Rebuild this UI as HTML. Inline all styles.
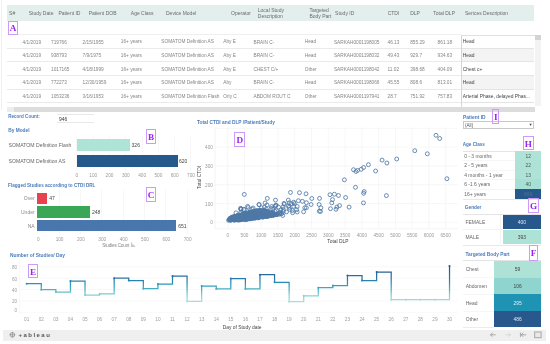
<!DOCTYPE html>
<html><head><meta charset="utf-8"><style>
html,body{margin:0;padding:0;background:#fff;}
body{width:550px;height:344px;position:relative;overflow:hidden;font-family:"Liberation Sans", "DejaVu Sans", sans-serif;}
.t{position:absolute;white-space:nowrap;line-height:1;}
.r{position:absolute;}
.lb{position:absolute;z-index:5;border:0.8px solid #cd9af7;color:#9a22f0;font-family:"Liberation Serif","DejaVu Serif",serif;font-weight:700;font-size:9.2px;text-align:center;background:transparent;}
svg{position:absolute;left:0;top:0;}
</style></head><body>
<div class="r" style="left:1.00px;top:0.00px;width:0.70px;height:110.00px;background:#f0f0f0;"></div>
<div class="r" style="left:7.00px;top:5.40px;width:527.30px;height:15.50px;background:#e3efed;"></div>
<div class="t" style="left:9.10px;top:11.00px;font-size:5.0px;color:#6a6a6a;font-weight:400;">S#</div>
<div class="t" style="left:28.70px;top:11.00px;font-size:5.0px;color:#6a6a6a;font-weight:400;">Study Date</div>
<div class="t" style="left:58.50px;top:11.00px;font-size:5.0px;color:#6a6a6a;font-weight:400;">Patient ID</div>
<div class="t" style="left:88.70px;top:11.00px;font-size:5.0px;color:#6a6a6a;font-weight:400;">Patient DOB</div>
<div class="t" style="left:130.80px;top:11.00px;font-size:5.0px;color:#6a6a6a;font-weight:400;">Age Class</div>
<div class="t" style="left:166.00px;top:11.00px;font-size:5.0px;color:#6a6a6a;font-weight:400;">Device Model</div>
<div class="t" style="left:231.10px;top:11.00px;font-size:5.0px;color:#6a6a6a;font-weight:400;">Operator</div>
<div class="t" style="left:335.10px;top:11.00px;font-size:5.0px;color:#6a6a6a;font-weight:400;">Study ID</div>
<div class="t" style="left:387.70px;top:11.00px;font-size:5.0px;color:#6a6a6a;font-weight:400;">CTDI</div>
<div class="t" style="left:410.20px;top:11.00px;font-size:5.0px;color:#6a6a6a;font-weight:400;">DLP</div>
<div class="t" style="left:433.30px;top:11.00px;font-size:5.0px;color:#6a6a6a;font-weight:400;">Total DLP</div>
<div class="t" style="left:465.00px;top:11.00px;font-size:5.0px;color:#6a6a6a;font-weight:400;">Serices Description</div>
<div class="t" style="left:257.80px;top:8.00px;font-size:5.0px;color:#6a6a6a;font-weight:400;">Local Study</div>
<div class="t" style="left:257.80px;top:14.00px;font-size:5.0px;color:#6a6a6a;font-weight:400;">Description</div>
<div class="t" style="left:309.40px;top:8.00px;font-size:5.0px;color:#6a6a6a;font-weight:400;">Targeted</div>
<div class="t" style="left:309.40px;top:14.00px;font-size:5.0px;color:#6a6a6a;font-weight:400;">Body Part</div>
<div class="r" style="left:461.00px;top:34.50px;width:73.50px;height:72.50px;background:#ffffff;border-left:0.7px solid #d5d5d5;border-top:0.7px solid #e0e0e0;box-sizing:border-box;"></div>
<div class="r" style="left:461.70px;top:48.50px;width:72.80px;height:13.00px;background:#f4f4f4;"></div>
<div class="r" style="left:461.70px;top:75.60px;width:72.80px;height:13.10px;background:#f4f4f4;"></div>
<div class="r" style="left:18.00px;top:34.20px;width:443.00px;height:0.60px;background:#efefef;"></div>
<div class="r" style="left:7.00px;top:47.90px;width:454.00px;height:0.60px;background:#eaeaea;"></div>
<div class="r" style="left:461.70px;top:47.90px;width:72.60px;height:0.60px;background:#e4e4e4;"></div>
<div class="r" style="left:7.00px;top:61.40px;width:454.00px;height:0.60px;background:#eaeaea;"></div>
<div class="r" style="left:461.70px;top:61.40px;width:72.60px;height:0.60px;background:#e4e4e4;"></div>
<div class="r" style="left:7.00px;top:75.00px;width:454.00px;height:0.60px;background:#eaeaea;"></div>
<div class="r" style="left:461.70px;top:75.00px;width:72.60px;height:0.60px;background:#e4e4e4;"></div>
<div class="r" style="left:7.00px;top:88.60px;width:454.00px;height:0.60px;background:#eaeaea;"></div>
<div class="r" style="left:461.70px;top:88.60px;width:72.60px;height:0.60px;background:#e4e4e4;"></div>
<div class="r" style="left:7.00px;top:102.20px;width:454.00px;height:0.60px;background:#eaeaea;"></div>
<div class="r" style="left:461.70px;top:102.20px;width:72.60px;height:0.60px;background:#e4e4e4;"></div>
<div class="t" style="left:22.60px;top:41.00px;font-size:4.75px;color:#858585;font-weight:400;">4/1/2019</div>
<div class="t" style="left:51.00px;top:41.00px;font-size:4.75px;color:#858585;font-weight:400;">719766</div>
<div class="t" style="left:82.60px;top:41.00px;font-size:4.75px;color:#858585;font-weight:400;">2/15/1955</div>
<div class="t" style="left:120.80px;top:40.00px;font-size:4.75px;color:#858585;font-weight:400;">16+ years</div>
<div class="t" style="left:161.30px;top:40.00px;font-size:4.75px;color:#858585;font-weight:400;">SOMATOM Definition AS</div>
<div class="t" style="left:223.30px;top:40.00px;font-size:4.75px;color:#858585;font-weight:400;">Aby E</div>
<div class="t" style="left:253.50px;top:41.00px;font-size:4.75px;color:#858585;font-weight:400;">BRAIN C-</div>
<div class="t" style="left:304.80px;top:40.00px;font-size:4.75px;color:#858585;font-weight:400;">Head</div>
<div class="t" style="left:333.90px;top:41.00px;font-size:4.75px;color:#858585;font-weight:400;">SARKAH0001198005</div>
<div class="t" style="left:387.50px;top:41.00px;font-size:4.75px;color:#858585;font-weight:400;">46.13</div>
<div class="t" style="left:410.20px;top:41.00px;font-size:4.75px;color:#858585;font-weight:400;">855.29</div>
<div class="t" style="left:437.60px;top:41.00px;font-size:4.75px;color:#858585;font-weight:400;">861.18</div>
<div class="t" style="left:462.80px;top:40.00px;font-size:4.9px;color:#444;font-weight:400;">Head</div>
<div class="t" style="left:22.60px;top:54.00px;font-size:4.75px;color:#858585;font-weight:400;">4/1/2019</div>
<div class="t" style="left:51.00px;top:54.00px;font-size:4.75px;color:#858585;font-weight:400;">938793</div>
<div class="t" style="left:82.60px;top:54.00px;font-size:4.75px;color:#858585;font-weight:400;">7/9/1975</div>
<div class="t" style="left:120.80px;top:54.00px;font-size:4.75px;color:#858585;font-weight:400;">16+ years</div>
<div class="t" style="left:161.30px;top:54.00px;font-size:4.75px;color:#858585;font-weight:400;">SOMATOM Definition AS</div>
<div class="t" style="left:223.30px;top:54.00px;font-size:4.75px;color:#858585;font-weight:400;">Aby E</div>
<div class="t" style="left:253.50px;top:54.00px;font-size:4.75px;color:#858585;font-weight:400;">BRAIN C-</div>
<div class="t" style="left:304.80px;top:54.00px;font-size:4.75px;color:#858585;font-weight:400;">Head</div>
<div class="t" style="left:333.90px;top:54.00px;font-size:4.75px;color:#858585;font-weight:400;">SARKAH0001198032</div>
<div class="t" style="left:387.50px;top:54.00px;font-size:4.75px;color:#858585;font-weight:400;">49.43</div>
<div class="t" style="left:410.20px;top:54.00px;font-size:4.75px;color:#858585;font-weight:400;">929.7</div>
<div class="t" style="left:437.60px;top:54.00px;font-size:4.75px;color:#858585;font-weight:400;">934.63</div>
<div class="t" style="left:462.80px;top:54.00px;font-size:4.9px;color:#444;font-weight:400;">Head</div>
<div class="t" style="left:22.60px;top:68.00px;font-size:4.75px;color:#858585;font-weight:400;">4/1/2019</div>
<div class="t" style="left:51.00px;top:68.00px;font-size:4.75px;color:#858585;font-weight:400;">1017165</div>
<div class="t" style="left:82.60px;top:68.00px;font-size:4.75px;color:#858585;font-weight:400;">4/18/1999</div>
<div class="t" style="left:120.80px;top:68.00px;font-size:4.75px;color:#858585;font-weight:400;">16+ years</div>
<div class="t" style="left:161.30px;top:68.00px;font-size:4.75px;color:#858585;font-weight:400;">SOMATOM Definition AS</div>
<div class="t" style="left:223.30px;top:68.00px;font-size:4.75px;color:#858585;font-weight:400;">Aby E</div>
<div class="t" style="left:253.50px;top:68.00px;font-size:4.75px;color:#858585;font-weight:400;">CHEST C/+</div>
<div class="t" style="left:304.80px;top:68.00px;font-size:4.75px;color:#858585;font-weight:400;">Other</div>
<div class="t" style="left:333.90px;top:68.00px;font-size:4.75px;color:#858585;font-weight:400;">SARKAH0001198042</div>
<div class="t" style="left:387.50px;top:68.00px;font-size:4.75px;color:#858585;font-weight:400;">11.02</div>
<div class="t" style="left:410.20px;top:68.00px;font-size:4.75px;color:#858585;font-weight:400;">398.68</div>
<div class="t" style="left:437.60px;top:68.00px;font-size:4.75px;color:#858585;font-weight:400;">404.09</div>
<div class="t" style="left:462.80px;top:68.00px;font-size:4.9px;color:#444;font-weight:400;">Chest c+</div>
<div class="t" style="left:22.60px;top:81.00px;font-size:4.75px;color:#858585;font-weight:400;">4/1/2019</div>
<div class="t" style="left:51.00px;top:81.00px;font-size:4.75px;color:#858585;font-weight:400;">772273</div>
<div class="t" style="left:82.60px;top:81.00px;font-size:4.75px;color:#858585;font-weight:400;">12/30/1959</div>
<div class="t" style="left:120.80px;top:81.00px;font-size:4.75px;color:#858585;font-weight:400;">16+ years</div>
<div class="t" style="left:161.30px;top:81.00px;font-size:4.75px;color:#858585;font-weight:400;">SOMATOM Definition AS</div>
<div class="t" style="left:223.30px;top:81.00px;font-size:4.75px;color:#858585;font-weight:400;">Aby</div>
<div class="t" style="left:253.50px;top:81.00px;font-size:4.75px;color:#858585;font-weight:400;">BRAIN C-</div>
<div class="t" style="left:304.80px;top:81.00px;font-size:4.75px;color:#858585;font-weight:400;">Head</div>
<div class="t" style="left:333.90px;top:81.00px;font-size:4.75px;color:#858585;font-weight:400;">SARKAH0001198066</div>
<div class="t" style="left:387.50px;top:81.00px;font-size:4.75px;color:#858585;font-weight:400;">45.55</div>
<div class="t" style="left:410.20px;top:81.00px;font-size:4.75px;color:#858585;font-weight:400;">808.6</div>
<div class="t" style="left:437.60px;top:81.00px;font-size:4.75px;color:#858585;font-weight:400;">813.01</div>
<div class="t" style="left:462.80px;top:81.00px;font-size:4.9px;color:#444;font-weight:400;">Head</div>
<div class="t" style="left:22.60px;top:95.00px;font-size:4.75px;color:#858585;font-weight:400;">4/1/2019</div>
<div class="t" style="left:51.00px;top:95.00px;font-size:4.75px;color:#858585;font-weight:400;">1053236</div>
<div class="t" style="left:82.60px;top:95.00px;font-size:4.75px;color:#858585;font-weight:400;">3/16/1953</div>
<div class="t" style="left:120.80px;top:95.00px;font-size:4.75px;color:#858585;font-weight:400;">16+ years</div>
<div class="t" style="left:161.30px;top:95.00px;font-size:4.75px;color:#858585;font-weight:400;">SOMATOM Definition Flash</div>
<div class="t" style="left:223.30px;top:95.00px;font-size:4.75px;color:#858585;font-weight:400;">Orly C</div>
<div class="t" style="left:253.50px;top:95.00px;font-size:4.75px;color:#858585;font-weight:400;">ABDOM ROUT C</div>
<div class="t" style="left:304.80px;top:95.00px;font-size:4.75px;color:#858585;font-weight:400;">Other</div>
<div class="t" style="left:333.90px;top:95.00px;font-size:4.75px;color:#858585;font-weight:400;">SARKAH0001197941</div>
<div class="t" style="left:387.50px;top:95.00px;font-size:4.75px;color:#858585;font-weight:400;">28.7</div>
<div class="t" style="left:410.20px;top:95.00px;font-size:4.75px;color:#858585;font-weight:400;">751.92</div>
<div class="t" style="left:437.60px;top:95.00px;font-size:4.75px;color:#858585;font-weight:400;">757.83</div>
<div class="t" style="left:462.80px;top:95.00px;font-size:4.9px;color:#444;font-weight:400;">Arterial Phase, delayed Phas...</div>
<div class="r" style="left:535.00px;top:34.50px;width:6.30px;height:71.80px;background:#f3f3f3;"></div>
<div class="r" style="left:535.00px;top:34.50px;width:6.30px;height:5.70px;background:#d3d3d3;"></div>
<div class="r" style="left:7.00px;top:107.00px;width:528.30px;height:5.30px;background:#dcdcdc;"></div>
<div class="r" style="left:7.00px;top:107.00px;width:6.50px;height:5.30px;background:#ededed;"></div>
<div class="lb" style="left:8.20px;top:21.30px;width:7.90px;height:11.80px;line-height:13.80px;">A</div>
<div class="t" style="left:8.20px;top:115.00px;font-size:4.55px;color:#4b7cbc;font-weight:700;">Record Count:</div>
<div class="r" style="left:57.00px;top:114.20px;width:37.00px;height:0.50px;background:#e8e8e8;"></div>
<div class="r" style="left:57.00px;top:121.80px;width:37.00px;height:0.50px;background:#e8e8e8;"></div>
<div class="t" style="left:59.00px;top:118.00px;font-size:4.9px;color:#333;font-weight:400;">946</div>
<div class="t" style="left:8.20px;top:129.00px;font-size:4.8px;color:#4b7cbc;font-weight:700;">By Model</div>
<div class="r" style="left:76.35px;top:136.00px;width:0.50px;height:34.00px;background:#f7f7f7;"></div>
<div class="r" style="left:92.65px;top:136.00px;width:0.50px;height:34.00px;background:#f7f7f7;"></div>
<div class="r" style="left:108.95px;top:136.00px;width:0.50px;height:34.00px;background:#f7f7f7;"></div>
<div class="r" style="left:125.25px;top:136.00px;width:0.50px;height:34.00px;background:#f7f7f7;"></div>
<div class="r" style="left:141.55px;top:136.00px;width:0.50px;height:34.00px;background:#f7f7f7;"></div>
<div class="r" style="left:157.85px;top:136.00px;width:0.50px;height:34.00px;background:#f7f7f7;"></div>
<div class="r" style="left:174.15px;top:136.00px;width:0.50px;height:34.00px;background:#f7f7f7;"></div>
<div class="r" style="left:190.45px;top:136.00px;width:0.50px;height:34.00px;background:#f7f7f7;"></div>
<div class="r" style="left:76.60px;top:139.00px;width:53.00px;height:11.60px;background:#ade4d5;"></div>
<div class="r" style="left:76.60px;top:154.80px;width:101.00px;height:11.80px;background:#26598b;"></div>
<div class="t" style="left:8.60px;top:143.00px;font-size:5.14px;color:#666;font-weight:400;">SOMATOM Definition Flash</div>
<div class="t" style="left:8.60px;top:159.00px;font-size:5.14px;color:#666;font-weight:400;">SOMATOM Definition AS</div>
<div class="t" style="left:131.60px;top:143.00px;font-size:5.0px;color:#444;font-weight:400;">326</div>
<div class="t" style="left:179.00px;top:159.00px;font-size:5.0px;color:#444;font-weight:400;">620</div>
<div class="t" style="left:-73.10px;width:300px;text-align:center;top:174.00px;font-size:4.7px;color:#9a9a9a;font-weight:400;">0</div>
<div class="t" style="left:-56.80px;width:300px;text-align:center;top:174.00px;font-size:4.7px;color:#9a9a9a;font-weight:400;">100</div>
<div class="t" style="left:-40.50px;width:300px;text-align:center;top:174.00px;font-size:4.7px;color:#9a9a9a;font-weight:400;">200</div>
<div class="t" style="left:-24.20px;width:300px;text-align:center;top:174.00px;font-size:4.7px;color:#9a9a9a;font-weight:400;">300</div>
<div class="t" style="left:-7.90px;width:300px;text-align:center;top:174.00px;font-size:4.7px;color:#9a9a9a;font-weight:400;">400</div>
<div class="t" style="left:8.40px;width:300px;text-align:center;top:174.00px;font-size:4.7px;color:#9a9a9a;font-weight:400;">500</div>
<div class="t" style="left:24.70px;width:300px;text-align:center;top:174.00px;font-size:4.7px;color:#9a9a9a;font-weight:400;">600</div>
<div class="t" style="left:41.00px;width:300px;text-align:center;top:174.00px;font-size:4.7px;color:#9a9a9a;font-weight:400;">700</div>
<div class="lb" style="left:146.20px;top:129.00px;width:8.00px;height:13.10px;line-height:15.10px;">B</div>
<div class="t" style="left:8.10px;top:184.00px;font-size:4.62px;color:#4b7cbc;font-weight:700;">Flagged Studies according to CTDI DRL</div>
<div class="r" style="left:37.15px;top:190.00px;width:0.50px;height:43.50px;background:#f7f7f7;"></div>
<div class="r" style="left:58.50px;top:190.00px;width:0.50px;height:43.50px;background:#f7f7f7;"></div>
<div class="r" style="left:79.85px;top:190.00px;width:0.50px;height:43.50px;background:#f7f7f7;"></div>
<div class="r" style="left:101.20px;top:190.00px;width:0.50px;height:43.50px;background:#f7f7f7;"></div>
<div class="r" style="left:122.55px;top:190.00px;width:0.50px;height:43.50px;background:#f7f7f7;"></div>
<div class="r" style="left:143.90px;top:190.00px;width:0.50px;height:43.50px;background:#f7f7f7;"></div>
<div class="r" style="left:165.25px;top:190.00px;width:0.50px;height:43.50px;background:#f7f7f7;"></div>
<div class="r" style="left:186.60px;top:190.00px;width:0.50px;height:43.50px;background:#f7f7f7;"></div>
<div class="r" style="left:37.40px;top:192.60px;width:9.90px;height:11.20px;background:#e8414f;"></div>
<div class="r" style="left:37.40px;top:206.10px;width:52.60px;height:11.50px;background:#3aa757;"></div>
<div class="r" style="left:37.40px;top:219.90px;width:139.00px;height:11.30px;background:#4976ad;"></div>
<div class="t" style="left:-265.40px;width:300px;text-align:right;top:196.00px;font-size:5.0px;color:#888;font-weight:400;">Over</div>
<div class="t" style="left:-265.40px;width:300px;text-align:right;top:210.00px;font-size:5.0px;color:#888;font-weight:400;">Under</div>
<div class="t" style="left:-265.40px;width:300px;text-align:right;top:224.00px;font-size:5.0px;color:#888;font-weight:400;">NA</div>
<div class="t" style="left:49.20px;top:196.00px;font-size:5.0px;color:#444;font-weight:400;">47</div>
<div class="t" style="left:92.00px;top:210.00px;font-size:5.0px;color:#444;font-weight:400;">248</div>
<div class="t" style="left:178.20px;top:224.00px;font-size:5.0px;color:#444;font-weight:400;">651</div>
<div class="t" style="left:-111.80px;width:300px;text-align:center;top:238.00px;font-size:4.7px;color:#9a9a9a;font-weight:400;">0</div>
<div class="t" style="left:-90.45px;width:300px;text-align:center;top:238.00px;font-size:4.7px;color:#9a9a9a;font-weight:400;">100</div>
<div class="t" style="left:-69.10px;width:300px;text-align:center;top:238.00px;font-size:4.7px;color:#9a9a9a;font-weight:400;">200</div>
<div class="t" style="left:-47.75px;width:300px;text-align:center;top:238.00px;font-size:4.7px;color:#9a9a9a;font-weight:400;">300</div>
<div class="t" style="left:-26.40px;width:300px;text-align:center;top:238.00px;font-size:4.7px;color:#9a9a9a;font-weight:400;">400</div>
<div class="t" style="left:-5.05px;width:300px;text-align:center;top:238.00px;font-size:4.7px;color:#9a9a9a;font-weight:400;">500</div>
<div class="t" style="left:16.30px;width:300px;text-align:center;top:238.00px;font-size:4.7px;color:#9a9a9a;font-weight:400;">600</div>
<div class="t" style="left:37.65px;width:300px;text-align:center;top:238.00px;font-size:4.7px;color:#9a9a9a;font-weight:400;">700</div>
<div class="t" style="left:102.30px;top:244.00px;font-size:4.7px;color:#888;font-weight:400;letter-spacing:-0.2px;">Studies Count</div>
<div class="lb" style="left:146.10px;top:187.10px;width:8.10px;height:13.00px;line-height:15.00px;">C</div>
<div class="t" style="left:197.00px;top:121.00px;font-size:4.82px;color:#4b7cbc;font-weight:700;">Total CTDI and DLP /Patient/Study</div>
<div class="lb" style="left:234.20px;top:132.20px;width:9.10px;height:13.20px;line-height:15.20px;">D</div>
<div class="t" style="left:-87.10px;width:300px;text-align:right;top:221.00px;font-size:4.7px;color:#9a9a9a;font-weight:400;">0</div>
<div class="t" style="left:-87.10px;width:300px;text-align:right;top:203.00px;font-size:4.7px;color:#9a9a9a;font-weight:400;">100</div>
<div class="t" style="left:-87.10px;width:300px;text-align:right;top:184.00px;font-size:4.7px;color:#9a9a9a;font-weight:400;">200</div>
<div class="t" style="left:-87.10px;width:300px;text-align:right;top:165.00px;font-size:4.7px;color:#9a9a9a;font-weight:400;">300</div>
<div class="t" style="left:-87.10px;width:300px;text-align:right;top:146.00px;font-size:4.7px;color:#9a9a9a;font-weight:400;">400</div>
<div class="t" style="left:77.70px;width:300px;text-align:center;top:234.00px;font-size:4.7px;color:#9a9a9a;font-weight:400;">0</div>
<div class="t" style="left:94.47px;width:300px;text-align:center;top:234.00px;font-size:4.7px;color:#9a9a9a;font-weight:400;">500</div>
<div class="t" style="left:111.24px;width:300px;text-align:center;top:234.00px;font-size:4.7px;color:#9a9a9a;font-weight:400;">1000</div>
<div class="t" style="left:128.01px;width:300px;text-align:center;top:234.00px;font-size:4.7px;color:#9a9a9a;font-weight:400;">1500</div>
<div class="t" style="left:144.78px;width:300px;text-align:center;top:234.00px;font-size:4.7px;color:#9a9a9a;font-weight:400;">2000</div>
<div class="t" style="left:161.55px;width:300px;text-align:center;top:234.00px;font-size:4.7px;color:#9a9a9a;font-weight:400;">2500</div>
<div class="t" style="left:178.32px;width:300px;text-align:center;top:234.00px;font-size:4.7px;color:#9a9a9a;font-weight:400;">3000</div>
<div class="t" style="left:195.09px;width:300px;text-align:center;top:234.00px;font-size:4.7px;color:#9a9a9a;font-weight:400;">3500</div>
<div class="t" style="left:211.86px;width:300px;text-align:center;top:234.00px;font-size:4.7px;color:#9a9a9a;font-weight:400;">4000</div>
<div class="t" style="left:228.63px;width:300px;text-align:center;top:234.00px;font-size:4.7px;color:#9a9a9a;font-weight:400;">4500</div>
<div class="t" style="left:245.40px;width:300px;text-align:center;top:234.00px;font-size:4.7px;color:#9a9a9a;font-weight:400;">5000</div>
<div class="t" style="left:262.17px;width:300px;text-align:center;top:234.00px;font-size:4.7px;color:#9a9a9a;font-weight:400;">5500</div>
<div class="t" style="left:278.94px;width:300px;text-align:center;top:234.00px;font-size:4.7px;color:#9a9a9a;font-weight:400;">6000</div>
<div class="t" style="left:295.71px;width:300px;text-align:center;top:234.00px;font-size:4.7px;color:#9a9a9a;font-weight:400;">6500</div>
<div class="t" style="left:327.30px;top:240.00px;font-size:4.9px;color:#444;font-weight:400;">Total DLP</div>
<div class="t" style="left:168.8px;top:175.0px;width:60px;height:5px;line-height:5px;text-align:center;font-size:4.9px;color:#444;font-weight:400;transform:rotate(-90deg);">Total CTDI</div>
<div class="t" style="left:10.00px;top:254.00px;font-size:4.88px;color:#4b7cbc;font-weight:700;">Number of Studies/ Day</div>
<div class="lb" style="left:28.10px;top:264.00px;width:8.10px;height:12.30px;line-height:14.30px;">E</div>
<div class="t" style="left:-282.80px;width:300px;text-align:right;top:266.00px;font-size:4.7px;color:#a0a0a0;font-weight:400;">80</div>
<div class="t" style="left:-282.80px;width:300px;text-align:right;top:278.00px;font-size:4.7px;color:#a0a0a0;font-weight:400;">60</div>
<div class="t" style="left:-282.80px;width:300px;text-align:right;top:289.00px;font-size:4.7px;color:#a0a0a0;font-weight:400;">40</div>
<div class="t" style="left:-282.80px;width:300px;text-align:right;top:300.00px;font-size:4.7px;color:#a0a0a0;font-weight:400;">20</div>
<div class="t" style="left:-282.80px;width:300px;text-align:right;top:309.00px;font-size:4.7px;color:#a0a0a0;font-weight:400;">0</div>
<div class="t" style="left:-123.30px;width:300px;text-align:center;top:318.00px;font-size:4.7px;color:#a0a0a0;font-weight:400;">01</div>
<div class="t" style="left:-108.72px;width:300px;text-align:center;top:318.00px;font-size:4.7px;color:#a0a0a0;font-weight:400;">02</div>
<div class="t" style="left:-94.14px;width:300px;text-align:center;top:318.00px;font-size:4.7px;color:#a0a0a0;font-weight:400;">03</div>
<div class="t" style="left:-79.56px;width:300px;text-align:center;top:318.00px;font-size:4.7px;color:#a0a0a0;font-weight:400;">04</div>
<div class="t" style="left:-64.98px;width:300px;text-align:center;top:318.00px;font-size:4.7px;color:#a0a0a0;font-weight:400;">05</div>
<div class="t" style="left:-50.40px;width:300px;text-align:center;top:318.00px;font-size:4.7px;color:#a0a0a0;font-weight:400;">06</div>
<div class="t" style="left:-35.82px;width:300px;text-align:center;top:318.00px;font-size:4.7px;color:#a0a0a0;font-weight:400;">07</div>
<div class="t" style="left:-21.24px;width:300px;text-align:center;top:318.00px;font-size:4.7px;color:#a0a0a0;font-weight:400;">08</div>
<div class="t" style="left:-6.66px;width:300px;text-align:center;top:318.00px;font-size:4.7px;color:#a0a0a0;font-weight:400;">09</div>
<div class="t" style="left:7.92px;width:300px;text-align:center;top:318.00px;font-size:4.7px;color:#a0a0a0;font-weight:400;">10</div>
<div class="t" style="left:22.50px;width:300px;text-align:center;top:318.00px;font-size:4.7px;color:#a0a0a0;font-weight:400;">11</div>
<div class="t" style="left:37.08px;width:300px;text-align:center;top:318.00px;font-size:4.7px;color:#a0a0a0;font-weight:400;">12</div>
<div class="t" style="left:51.66px;width:300px;text-align:center;top:318.00px;font-size:4.7px;color:#a0a0a0;font-weight:400;">13</div>
<div class="t" style="left:66.24px;width:300px;text-align:center;top:318.00px;font-size:4.7px;color:#a0a0a0;font-weight:400;">14</div>
<div class="t" style="left:80.82px;width:300px;text-align:center;top:318.00px;font-size:4.7px;color:#a0a0a0;font-weight:400;">15</div>
<div class="t" style="left:95.40px;width:300px;text-align:center;top:318.00px;font-size:4.7px;color:#a0a0a0;font-weight:400;">16</div>
<div class="t" style="left:109.98px;width:300px;text-align:center;top:318.00px;font-size:4.7px;color:#a0a0a0;font-weight:400;">17</div>
<div class="t" style="left:124.56px;width:300px;text-align:center;top:318.00px;font-size:4.7px;color:#a0a0a0;font-weight:400;">18</div>
<div class="t" style="left:139.14px;width:300px;text-align:center;top:318.00px;font-size:4.7px;color:#a0a0a0;font-weight:400;">19</div>
<div class="t" style="left:153.72px;width:300px;text-align:center;top:318.00px;font-size:4.7px;color:#a0a0a0;font-weight:400;">20</div>
<div class="t" style="left:168.30px;width:300px;text-align:center;top:318.00px;font-size:4.7px;color:#a0a0a0;font-weight:400;">21</div>
<div class="t" style="left:182.88px;width:300px;text-align:center;top:318.00px;font-size:4.7px;color:#a0a0a0;font-weight:400;">22</div>
<div class="t" style="left:197.46px;width:300px;text-align:center;top:318.00px;font-size:4.7px;color:#a0a0a0;font-weight:400;">23</div>
<div class="t" style="left:212.04px;width:300px;text-align:center;top:318.00px;font-size:4.7px;color:#a0a0a0;font-weight:400;">24</div>
<div class="t" style="left:226.62px;width:300px;text-align:center;top:318.00px;font-size:4.7px;color:#a0a0a0;font-weight:400;">25</div>
<div class="t" style="left:241.20px;width:300px;text-align:center;top:318.00px;font-size:4.7px;color:#a0a0a0;font-weight:400;">26</div>
<div class="t" style="left:255.78px;width:300px;text-align:center;top:318.00px;font-size:4.7px;color:#a0a0a0;font-weight:400;">27</div>
<div class="t" style="left:270.36px;width:300px;text-align:center;top:318.00px;font-size:4.7px;color:#a0a0a0;font-weight:400;">28</div>
<div class="t" style="left:284.94px;width:300px;text-align:center;top:318.00px;font-size:4.7px;color:#a0a0a0;font-weight:400;">29</div>
<div class="t" style="left:299.52px;width:300px;text-align:center;top:318.00px;font-size:4.7px;color:#a0a0a0;font-weight:400;">30</div>
<div class="t" style="left:222.70px;top:326.00px;font-size:4.9px;color:#444;font-weight:400;">Day of Study date</div>
<div class="t" style="left:463.00px;top:116.00px;font-size:4.9px;color:#4b7cbc;font-weight:700;">Patient ID</div>
<div class="lb" style="left:492.30px;top:109.40px;width:5.10px;height:12.80px;line-height:14.80px;">I</div>
<div class="r" style="left:463px;top:121.4px;width:70.5px;height:7.3px;border:0.6px solid #c9c9c9;box-sizing:border-box;background:#fff"></div>
<div class="t" style="left:465.00px;top:124.00px;font-size:4.6px;color:#555;font-weight:400;">(All)</div>
<div class="t" style="left:380.60px;width:300px;text-align:center;top:124.00px;font-size:3.8px;color:#444;font-weight:400;">&#9660;</div>
<div class="t" style="left:462.70px;top:143.00px;font-size:4.6px;color:#4b7cbc;font-weight:700;">Age Class</div>
<div class="lb" style="left:522.70px;top:136.10px;width:9.20px;height:12.20px;line-height:14.20px;">H</div>
<div class="r" style="left:463.00px;top:150.60px;width:78.00px;height:0.50px;background:#e4e4e4;"></div>
<div class="r" style="left:515.20px;top:150.80px;width:25.90px;height:9.55px;background:#b0e3d7;"></div>
<div class="t" style="left:464.20px;top:155.00px;font-size:4.95px;color:#666;font-weight:400;">0 - 3 months</div>
<div class="t" style="left:378.20px;width:300px;text-align:center;top:155.00px;font-size:4.95px;color:#555;font-weight:400;">12</div>
<div class="r" style="left:515.20px;top:160.35px;width:25.90px;height:9.55px;background:#aee2d6;"></div>
<div class="r" style="left:463.00px;top:160.10px;width:52.20px;height:0.50px;background:#f6f6f6;"></div>
<div class="t" style="left:464.20px;top:164.00px;font-size:4.95px;color:#666;font-weight:400;">2 - 5 years</div>
<div class="t" style="left:378.20px;width:300px;text-align:center;top:164.00px;font-size:4.95px;color:#555;font-weight:400;">22</div>
<div class="r" style="left:515.20px;top:169.90px;width:25.90px;height:9.55px;background:#b0e3d7;"></div>
<div class="r" style="left:463.00px;top:169.65px;width:52.20px;height:0.50px;background:#f6f6f6;"></div>
<div class="t" style="left:464.20px;top:174.00px;font-size:4.95px;color:#666;font-weight:400;">4 months - 1 year</div>
<div class="t" style="left:378.20px;width:300px;text-align:center;top:174.00px;font-size:4.95px;color:#555;font-weight:400;">13</div>
<div class="r" style="left:515.20px;top:179.45px;width:25.90px;height:9.55px;background:#a6dfd3;"></div>
<div class="r" style="left:463.00px;top:179.20px;width:52.20px;height:0.50px;background:#f6f6f6;"></div>
<div class="t" style="left:464.20px;top:183.00px;font-size:4.95px;color:#666;font-weight:400;">6 -1 6 years</div>
<div class="t" style="left:378.20px;width:300px;text-align:center;top:183.00px;font-size:4.95px;color:#555;font-weight:400;">40</div>
<div class="r" style="left:515.20px;top:189.00px;width:25.90px;height:9.55px;background:#27588c;"></div>
<div class="r" style="left:463.00px;top:188.75px;width:52.20px;height:0.50px;background:#f6f6f6;"></div>
<div class="t" style="left:464.20px;top:193.00px;font-size:4.95px;color:#666;font-weight:400;">16+ years</div>
<div class="t" style="left:378.20px;width:300px;text-align:center;top:193.00px;font-size:4.95px;color:#4f6f8f;font-weight:400;">869</div>
<div class="r" style="left:463.00px;top:198.60px;width:78.00px;height:0.50px;background:#e8e8e8;"></div>
<div class="t" style="left:464.80px;top:206.00px;font-size:4.75px;color:#4b7cbc;font-weight:700;">Gender</div>
<div class="lb" style="left:528.20px;top:198.20px;width:9.00px;height:13.00px;line-height:15.00px;">G</div>
<div class="r" style="left:463.00px;top:213.90px;width:78.00px;height:0.50px;background:#e4e4e4;"></div>
<div class="r" style="left:502.70px;top:214.60px;width:38.40px;height:14.80px;background:#27588c;"></div>
<div class="r" style="left:502.70px;top:229.60px;width:38.40px;height:14.80px;background:#ade2d6;"></div>
<div class="r" style="left:463.00px;top:229.30px;width:39.70px;height:0.50px;background:#f3f3f3;"></div>
<div class="r" style="left:499.80px;top:214.50px;width:0.60px;height:29.70px;background:#f3f3f3;"></div>
<div class="r" style="left:463.00px;top:244.50px;width:78.00px;height:0.50px;background:#e8e8e8;"></div>
<div class="t" style="left:465.50px;top:221.00px;font-size:4.95px;color:#666;font-weight:400;">FEMALE</div>
<div class="t" style="left:465.50px;top:236.00px;font-size:4.95px;color:#666;font-weight:400;">MALE</div>
<div class="t" style="left:371.90px;width:300px;text-align:center;top:221.00px;font-size:4.95px;color:#dfe8f0;font-weight:400;">400</div>
<div class="t" style="left:371.90px;width:300px;text-align:center;top:236.00px;font-size:4.95px;color:#444;font-weight:400;">393</div>
<div class="t" style="left:465.50px;top:253.00px;font-size:4.83px;color:#4b7cbc;font-weight:700;">Targeted Body Part</div>
<div class="lb" style="left:528.80px;top:245.20px;width:7.50px;height:13.40px;line-height:15.40px;">F</div>
<div class="r" style="left:463.00px;top:260.40px;width:78.00px;height:0.50px;background:#e4e4e4;"></div>
<div class="r" style="left:494.30px;top:260.90px;width:46.70px;height:16.65px;background:#afe2d6;"></div>
<div class="t" style="left:465.80px;top:268.00px;font-size:4.95px;color:#666;font-weight:400;">Chest</div>
<div class="t" style="left:367.60px;width:300px;text-align:center;top:268.00px;font-size:4.95px;color:#444;font-weight:400;">59</div>
<div class="r" style="left:494.30px;top:277.55px;width:46.70px;height:16.65px;background:#8fd4cf;"></div>
<div class="r" style="left:463.00px;top:277.30px;width:31.30px;height:0.50px;background:#f6f6f6;"></div>
<div class="t" style="left:465.80px;top:285.00px;font-size:4.95px;color:#666;font-weight:400;">Abdomen</div>
<div class="t" style="left:367.60px;width:300px;text-align:center;top:285.00px;font-size:4.95px;color:#444;font-weight:400;">106</div>
<div class="r" style="left:494.30px;top:294.20px;width:46.70px;height:16.65px;background:#1f93b4;"></div>
<div class="r" style="left:463.00px;top:293.95px;width:31.30px;height:0.50px;background:#f6f6f6;"></div>
<div class="t" style="left:465.80px;top:302.00px;font-size:4.95px;color:#666;font-weight:400;">Head</div>
<div class="t" style="left:367.60px;width:300px;text-align:center;top:302.00px;font-size:4.95px;color:#e0f2f6;font-weight:400;">295</div>
<div class="r" style="left:494.30px;top:310.85px;width:46.70px;height:16.65px;background:#28588c;"></div>
<div class="r" style="left:463.00px;top:310.60px;width:31.30px;height:0.50px;background:#f6f6f6;"></div>
<div class="t" style="left:465.80px;top:318.00px;font-size:4.95px;color:#666;font-weight:400;">Other</div>
<div class="t" style="left:367.60px;width:300px;text-align:center;top:318.00px;font-size:4.95px;color:#dfe8f0;font-weight:400;">486</div>
<div class="r" style="left:463.00px;top:327.30px;width:31.30px;height:0.50px;background:#ececec;"></div>
<div class="r" style="left:2.50px;top:330.40px;width:543.10px;height:10.20px;background:#efefef;"></div>
<div class="t" style="left:18.60px;top:332.00px;font-size:6.0px;color:#555;font-weight:700;letter-spacing:1.45px;">+ableau</div>
<svg width="550" height="344" viewBox="0 0 550 344"><g stroke="#999" stroke-width="0.6"><line x1="131.6" y1="242.3" x2="131.6" y2="246.6"/><line x1="131.3" y1="246.3" x2="135.2" y2="246.3"/><line x1="132.8" y1="244.2" x2="132.8" y2="246"/><line x1="134" y1="245.2" x2="134" y2="246"/></g><line x1="227.70" y1="127.5" x2="227.70" y2="228.7" stroke="#eeeeee" stroke-width="0.5"/><line x1="244.47" y1="127.5" x2="244.47" y2="228.7" stroke="#eeeeee" stroke-width="0.5"/><line x1="261.24" y1="127.5" x2="261.24" y2="228.7" stroke="#eeeeee" stroke-width="0.5"/><line x1="278.01" y1="127.5" x2="278.01" y2="228.7" stroke="#eeeeee" stroke-width="0.5"/><line x1="294.78" y1="127.5" x2="294.78" y2="228.7" stroke="#eeeeee" stroke-width="0.5"/><line x1="311.55" y1="127.5" x2="311.55" y2="228.7" stroke="#eeeeee" stroke-width="0.5"/><line x1="328.32" y1="127.5" x2="328.32" y2="228.7" stroke="#eeeeee" stroke-width="0.5"/><line x1="345.09" y1="127.5" x2="345.09" y2="228.7" stroke="#eeeeee" stroke-width="0.5"/><line x1="361.86" y1="127.5" x2="361.86" y2="228.7" stroke="#eeeeee" stroke-width="0.5"/><line x1="378.63" y1="127.5" x2="378.63" y2="228.7" stroke="#eeeeee" stroke-width="0.5"/><line x1="395.40" y1="127.5" x2="395.40" y2="228.7" stroke="#eeeeee" stroke-width="0.5"/><line x1="412.17" y1="127.5" x2="412.17" y2="228.7" stroke="#eeeeee" stroke-width="0.5"/><line x1="428.94" y1="127.5" x2="428.94" y2="228.7" stroke="#eeeeee" stroke-width="0.5"/><line x1="445.71" y1="127.5" x2="445.71" y2="228.7" stroke="#eeeeee" stroke-width="0.5"/><line x1="215.0" y1="127.5" x2="215.0" y2="228.7" stroke="#e6e6e6" stroke-width="0.5"/><line x1="215.0" y1="222.30" x2="458.0" y2="222.30" stroke="#eeeeee" stroke-width="0.5"/><line x1="215.0" y1="203.50" x2="458.0" y2="203.50" stroke="#eeeeee" stroke-width="0.5"/><line x1="215.0" y1="184.70" x2="458.0" y2="184.70" stroke="#eeeeee" stroke-width="0.5"/><line x1="215.0" y1="165.90" x2="458.0" y2="165.90" stroke="#eeeeee" stroke-width="0.5"/><line x1="215.0" y1="147.10" x2="458.0" y2="147.10" stroke="#eeeeee" stroke-width="0.5"/><line x1="215.0" y1="128.30" x2="458.0" y2="128.30" stroke="#eeeeee" stroke-width="0.5"/><line x1="215.0" y1="228.7" x2="458.0" y2="228.7" stroke="#eeeeee" stroke-width="0.5"/><g fill="none" stroke="#4e79a7" stroke-width="0.85"><circle cx="436.0" cy="135.3" r="1.95"/><circle cx="439.7" cy="138.5" r="1.95"/><circle cx="414.8" cy="150.7" r="1.95"/><circle cx="427.3" cy="153.8" r="1.95"/><circle cx="396.7" cy="159.0" r="1.95"/><circle cx="382.1" cy="160.1" r="1.95"/><circle cx="386.9" cy="163.0" r="1.95"/><circle cx="368.4" cy="164.7" r="1.95"/><circle cx="363.6" cy="167.5" r="1.95"/><circle cx="361.2" cy="169.3" r="1.95"/><circle cx="357.5" cy="170.4" r="1.95"/><circle cx="355.9" cy="171.5" r="1.95"/><circle cx="353.5" cy="169.7" r="1.95"/><circle cx="375.6" cy="171.0" r="1.95"/><circle cx="344.4" cy="179.8" r="1.95"/><circle cx="446.9" cy="178.7" r="1.95"/><circle cx="355.5" cy="187.3" r="1.95"/><circle cx="364.2" cy="191.5" r="1.95"/><circle cx="363.6" cy="193.3" r="1.95"/><circle cx="386.4" cy="195.6" r="1.95"/><circle cx="363.5" cy="202.9" r="1.95"/><circle cx="345.6" cy="197.5" r="1.95"/><circle cx="349.1" cy="207.1" r="1.95"/><circle cx="330.0" cy="194.7" r="1.95"/><circle cx="334.4" cy="194.2" r="1.95"/><circle cx="338.5" cy="195.5" r="1.95"/><circle cx="332.5" cy="199.6" r="1.95"/><circle cx="331.8" cy="202.9" r="1.95"/><circle cx="339.5" cy="205.6" r="1.95"/><circle cx="336.9" cy="207.1" r="1.95"/><circle cx="336.0" cy="209.3" r="1.95"/><circle cx="330.5" cy="208.7" r="1.95"/><circle cx="319.5" cy="198.4" r="1.95"/><circle cx="319.1" cy="204.5" r="1.95"/><circle cx="320.9" cy="207.8" r="1.95"/><circle cx="320.5" cy="211.5" r="1.95"/><circle cx="311.8" cy="198.5" r="1.95"/><circle cx="311.1" cy="204.5" r="1.95"/><circle cx="306.0" cy="193.8" r="1.95"/><circle cx="299.5" cy="192.7" r="1.95"/><circle cx="290.5" cy="192.4" r="1.95"/><circle cx="306.4" cy="202.7" r="1.95"/><circle cx="306.4" cy="207.8" r="1.95"/><circle cx="303.6" cy="211.8" r="1.95"/><circle cx="244.3" cy="194.4" r="1.95"/><circle cx="267.3" cy="198.4" r="1.95"/><circle cx="275.5" cy="200.1" r="1.95"/><circle cx="288.3" cy="200.1" r="1.95"/><circle cx="259.0" cy="204.6" r="1.95"/><circle cx="265.1" cy="203.0" r="1.95"/><circle cx="247.6" cy="206.4" r="1.95"/><circle cx="253.1" cy="208.0" r="1.95"/><circle cx="241.1" cy="209.4" r="1.95"/><circle cx="236.0" cy="212.8" r="1.95"/><circle cx="284.3" cy="204.3" r="1.95"/><circle cx="275.8" cy="205.4" r="1.95"/><circle cx="293.7" cy="202.2" r="1.95"/><circle cx="298.4" cy="200.7" r="1.95"/><circle cx="302.4" cy="201.3" r="1.95"/><circle cx="288.5" cy="205.9" r="1.95"/><circle cx="291.4" cy="203.6" r="1.95"/><circle cx="297.2" cy="206.5" r="1.95"/><circle cx="304.8" cy="207.7" r="1.95"/><circle cx="289.7" cy="209.4" r="1.95"/><circle cx="292.6" cy="212.7" r="1.95"/><circle cx="297.2" cy="212.0" r="1.95"/><circle cx="283.3" cy="209.4" r="1.95"/><circle cx="282.7" cy="215.5" r="1.95"/><circle cx="278.6" cy="207.1" r="1.95"/><circle cx="276.3" cy="210.6" r="1.95"/><circle cx="271.6" cy="206.5" r="1.95"/><circle cx="274.0" cy="214.1" r="1.95"/><circle cx="279.8" cy="212.9" r="1.95"/><circle cx="319.3" cy="211.2" r="1.95"/><circle cx="246.1" cy="215.3" r="1.95"/><circle cx="248.4" cy="215.7" r="1.95"/><circle cx="232.3" cy="218.9" r="1.95"/><circle cx="273.6" cy="214.9" r="1.95"/><circle cx="260.0" cy="210.2" r="1.95"/><circle cx="244.3" cy="218.8" r="1.95"/><circle cx="238.3" cy="216.9" r="1.95"/><circle cx="248.8" cy="218.6" r="1.95"/><circle cx="231.7" cy="218.2" r="1.95"/><circle cx="251.8" cy="214.6" r="1.95"/><circle cx="253.2" cy="212.8" r="1.95"/><circle cx="266.6" cy="213.5" r="1.95"/><circle cx="257.1" cy="212.6" r="1.95"/><circle cx="234.9" cy="217.1" r="1.95"/><circle cx="236.8" cy="219.9" r="1.95"/><circle cx="264.9" cy="213.2" r="1.95"/><circle cx="266.4" cy="213.4" r="1.95"/><circle cx="253.4" cy="211.7" r="1.95"/><circle cx="254.3" cy="217.9" r="1.95"/><circle cx="266.7" cy="211.2" r="1.95"/><circle cx="249.5" cy="218.7" r="1.95"/><circle cx="253.7" cy="217.6" r="1.95"/><circle cx="235.5" cy="218.5" r="1.95"/><circle cx="276.0" cy="214.7" r="1.95"/><circle cx="258.4" cy="211.7" r="1.95"/><circle cx="251.1" cy="212.6" r="1.95"/><circle cx="238.1" cy="218.9" r="1.95"/><circle cx="254.9" cy="216.4" r="1.95"/><circle cx="248.6" cy="212.8" r="1.95"/><circle cx="266.1" cy="213.1" r="1.95"/><circle cx="265.4" cy="211.2" r="1.95"/><circle cx="250.2" cy="214.5" r="1.95"/><circle cx="231.9" cy="219.6" r="1.95"/><circle cx="237.3" cy="219.8" r="1.95"/><circle cx="234.0" cy="220.1" r="1.95"/><circle cx="236.6" cy="218.5" r="1.95"/><circle cx="248.3" cy="213.5" r="1.95"/><circle cx="254.9" cy="217.6" r="1.95"/><circle cx="247.2" cy="214.0" r="1.95"/><circle cx="237.3" cy="215.6" r="1.95"/><circle cx="257.3" cy="214.0" r="1.95"/><circle cx="266.4" cy="214.6" r="1.95"/><circle cx="257.5" cy="215.5" r="1.95"/><circle cx="268.8" cy="214.1" r="1.95"/><circle cx="247.9" cy="218.9" r="1.95"/><circle cx="243.7" cy="215.5" r="1.95"/><circle cx="240.5" cy="218.8" r="1.95"/><circle cx="239.6" cy="215.3" r="1.95"/><circle cx="264.1" cy="216.5" r="1.95"/><circle cx="254.6" cy="212.6" r="1.95"/><circle cx="268.0" cy="215.8" r="1.95"/><circle cx="272.5" cy="213.7" r="1.95"/><circle cx="247.6" cy="218.3" r="1.95"/><circle cx="263.9" cy="210.8" r="1.95"/><circle cx="273.5" cy="214.9" r="1.95"/><circle cx="244.5" cy="216.0" r="1.95"/><circle cx="242.6" cy="218.9" r="1.95"/><circle cx="253.5" cy="212.0" r="1.95"/><circle cx="255.8" cy="214.4" r="1.95"/><circle cx="238.5" cy="216.1" r="1.95"/><circle cx="237.9" cy="216.5" r="1.95"/><circle cx="258.8" cy="213.9" r="1.95"/><circle cx="258.8" cy="217.0" r="1.95"/><circle cx="259.0" cy="215.7" r="1.95"/><circle cx="259.1" cy="210.8" r="1.95"/><circle cx="252.7" cy="215.0" r="1.95"/><circle cx="256.4" cy="214.8" r="1.95"/><circle cx="257.6" cy="210.9" r="1.95"/><circle cx="274.3" cy="215.0" r="1.95"/><circle cx="252.6" cy="216.9" r="1.95"/><circle cx="264.5" cy="211.1" r="1.95"/><circle cx="273.9" cy="214.6" r="1.95"/><circle cx="256.6" cy="216.7" r="1.95"/><circle cx="245.9" cy="219.2" r="1.95"/><circle cx="258.7" cy="217.7" r="1.95"/><circle cx="246.6" cy="216.1" r="1.95"/><circle cx="234.2" cy="220.0" r="1.95"/><circle cx="271.0" cy="215.4" r="1.95"/><circle cx="273.1" cy="215.1" r="1.95"/><circle cx="266.7" cy="216.3" r="1.95"/><circle cx="266.0" cy="216.3" r="1.95"/><circle cx="272.2" cy="213.6" r="1.95"/><circle cx="253.2" cy="214.5" r="1.95"/><circle cx="235.5" cy="219.1" r="1.95"/><circle cx="234.5" cy="219.9" r="1.95"/><circle cx="239.5" cy="218.4" r="1.95"/><circle cx="269.9" cy="214.3" r="1.95"/><circle cx="238.2" cy="219.9" r="1.95"/><circle cx="242.1" cy="215.6" r="1.95"/><circle cx="258.5" cy="214.3" r="1.95"/><circle cx="255.5" cy="215.4" r="1.95"/><circle cx="256.1" cy="210.9" r="1.95"/><circle cx="267.0" cy="214.4" r="1.95"/><circle cx="247.4" cy="218.3" r="1.95"/><circle cx="242.4" cy="219.2" r="1.95"/><circle cx="265.0" cy="215.3" r="1.95"/><circle cx="244.5" cy="218.5" r="1.95"/><circle cx="252.8" cy="211.7" r="1.95"/><circle cx="245.4" cy="219.3" r="1.95"/><circle cx="249.3" cy="215.6" r="1.95"/><circle cx="239.5" cy="219.9" r="1.95"/><circle cx="242.9" cy="217.3" r="1.95"/><circle cx="230.8" cy="219.5" r="1.95"/><circle cx="241.2" cy="216.9" r="1.95"/><circle cx="249.7" cy="212.3" r="1.95"/><circle cx="263.6" cy="211.4" r="1.95"/><circle cx="236.1" cy="217.9" r="1.95"/><circle cx="266.3" cy="216.5" r="1.95"/><circle cx="235.8" cy="219.6" r="1.95"/><circle cx="262.7" cy="212.5" r="1.95"/><circle cx="255.2" cy="212.4" r="1.95"/><circle cx="269.3" cy="214.1" r="1.95"/><circle cx="264.4" cy="212.1" r="1.95"/><circle cx="242.2" cy="218.2" r="1.95"/><circle cx="268.2" cy="213.0" r="1.95"/><circle cx="249.3" cy="214.4" r="1.95"/><circle cx="263.5" cy="216.1" r="1.95"/><circle cx="245.1" cy="219.3" r="1.95"/><circle cx="231.8" cy="218.2" r="1.95"/><circle cx="266.2" cy="215.0" r="1.95"/><circle cx="256.7" cy="214.6" r="1.95"/><circle cx="279.5" cy="213.9" r="1.95"/><circle cx="253.0" cy="217.0" r="1.95"/><circle cx="260.2" cy="213.6" r="1.95"/><circle cx="255.0" cy="218.3" r="1.95"/><circle cx="255.3" cy="216.1" r="1.95"/><circle cx="236.2" cy="218.7" r="1.95"/><circle cx="274.3" cy="214.3" r="1.95"/><circle cx="274.2" cy="214.0" r="1.95"/><circle cx="244.3" cy="217.2" r="1.95"/><circle cx="248.2" cy="217.3" r="1.95"/><circle cx="231.1" cy="217.9" r="1.95"/><circle cx="242.1" cy="216.9" r="1.95"/><circle cx="238.8" cy="215.2" r="1.95"/><circle cx="267.7" cy="212.9" r="1.95"/><circle cx="253.1" cy="213.9" r="1.95"/><circle cx="244.1" cy="214.1" r="1.95"/><circle cx="235.4" cy="218.7" r="1.95"/><circle cx="244.7" cy="213.7" r="1.95"/><circle cx="242.7" cy="217.9" r="1.95"/><circle cx="258.9" cy="216.5" r="1.95"/><circle cx="237.3" cy="215.9" r="1.95"/><circle cx="255.6" cy="211.6" r="1.95"/><circle cx="236.1" cy="219.7" r="1.95"/><circle cx="247.1" cy="217.6" r="1.95"/><circle cx="242.6" cy="214.7" r="1.95"/><circle cx="269.4" cy="214.6" r="1.95"/><circle cx="257.1" cy="215.5" r="1.95"/><circle cx="231.9" cy="217.3" r="1.95"/><circle cx="235.4" cy="217.5" r="1.95"/><circle cx="243.3" cy="217.3" r="1.95"/><circle cx="229.7" cy="219.1" r="1.95"/><circle cx="260.5" cy="214.6" r="1.95"/><circle cx="242.0" cy="218.8" r="1.95"/><circle cx="257.0" cy="211.0" r="1.95"/><circle cx="258.6" cy="211.9" r="1.95"/><circle cx="263.7" cy="216.2" r="1.95"/><circle cx="242.2" cy="215.8" r="1.95"/><circle cx="234.6" cy="218.1" r="1.95"/><circle cx="260.3" cy="215.9" r="1.95"/><circle cx="261.3" cy="215.2" r="1.95"/><circle cx="254.4" cy="216.6" r="1.95"/><circle cx="245.3" cy="216.4" r="1.95"/><circle cx="265.3" cy="215.2" r="1.95"/><circle cx="240.9" cy="218.0" r="1.95"/><circle cx="251.4" cy="217.3" r="1.95"/><circle cx="256.0" cy="211.0" r="1.95"/><circle cx="241.1" cy="215.7" r="1.95"/><circle cx="255.5" cy="216.6" r="1.95"/><circle cx="251.2" cy="212.2" r="1.95"/><circle cx="236.5" cy="219.1" r="1.95"/><circle cx="231.3" cy="219.1" r="1.95"/><circle cx="269.2" cy="213.6" r="1.95"/><circle cx="249.1" cy="216.8" r="1.95"/><circle cx="237.7" cy="218.7" r="1.95"/><circle cx="239.8" cy="215.7" r="1.95"/><circle cx="239.0" cy="215.5" r="1.95"/><circle cx="230.7" cy="220.1" r="1.95"/><circle cx="247.0" cy="213.2" r="1.95"/><circle cx="262.1" cy="212.2" r="1.95"/><circle cx="245.7" cy="219.3" r="1.95"/><circle cx="229.8" cy="219.4" r="1.95"/><circle cx="249.6" cy="216.0" r="1.95"/><circle cx="246.4" cy="217.0" r="1.95"/><circle cx="271.1" cy="215.2" r="1.95"/><circle cx="269.5" cy="215.9" r="1.95"/><circle cx="242.9" cy="219.0" r="1.95"/><circle cx="255.7" cy="214.9" r="1.95"/><circle cx="241.3" cy="216.4" r="1.95"/><circle cx="265.2" cy="211.5" r="1.95"/><circle cx="264.7" cy="211.4" r="1.95"/><circle cx="244.5" cy="217.2" r="1.95"/><circle cx="268.7" cy="215.2" r="1.95"/><circle cx="241.9" cy="214.9" r="1.95"/><circle cx="260.0" cy="214.6" r="1.95"/><circle cx="234.1" cy="217.1" r="1.95"/><circle cx="230.7" cy="220.0" r="1.95"/><circle cx="253.0" cy="213.0" r="1.95"/><circle cx="261.0" cy="215.9" r="1.95"/><circle cx="248.6" cy="217.7" r="1.95"/><circle cx="242.4" cy="216.0" r="1.95"/><circle cx="239.6" cy="218.2" r="1.95"/><circle cx="265.5" cy="214.9" r="1.95"/><circle cx="258.4" cy="217.1" r="1.95"/><circle cx="250.0" cy="214.5" r="1.95"/><circle cx="233.5" cy="217.7" r="1.95"/><circle cx="250.8" cy="216.6" r="1.95"/><circle cx="259.4" cy="214.6" r="1.95"/><circle cx="248.3" cy="214.3" r="1.95"/><circle cx="239.6" cy="215.3" r="1.95"/><circle cx="251.6" cy="215.8" r="1.95"/><circle cx="237.4" cy="217.5" r="1.95"/><circle cx="248.7" cy="218.0" r="1.95"/><circle cx="243.9" cy="214.1" r="1.95"/><circle cx="234.4" cy="217.1" r="1.95"/><circle cx="262.3" cy="216.1" r="1.95"/><circle cx="271.3" cy="214.6" r="1.95"/><circle cx="238.5" cy="218.0" r="1.95"/><circle cx="256.7" cy="217.2" r="1.95"/><circle cx="277.4" cy="214.4" r="1.95"/><circle cx="269.8" cy="213.1" r="1.95"/><circle cx="258.5" cy="215.5" r="1.95"/><circle cx="251.4" cy="215.7" r="1.95"/><circle cx="264.4" cy="214.1" r="1.95"/><circle cx="255.2" cy="212.7" r="1.95"/><circle cx="238.3" cy="219.5" r="1.95"/><circle cx="235.5" cy="219.7" r="1.95"/><circle cx="252.6" cy="218.3" r="1.95"/><circle cx="263.2" cy="212.1" r="1.95"/><circle cx="272.9" cy="213.6" r="1.95"/><circle cx="232.1" cy="217.9" r="1.95"/><circle cx="236.3" cy="216.1" r="1.95"/><circle cx="239.9" cy="217.3" r="1.95"/><circle cx="245.9" cy="218.2" r="1.95"/><circle cx="263.2" cy="211.1" r="1.95"/><circle cx="258.8" cy="211.1" r="1.95"/><circle cx="262.8" cy="211.6" r="1.95"/><circle cx="260.0" cy="211.8" r="1.95"/><circle cx="252.6" cy="213.3" r="1.95"/><circle cx="242.3" cy="214.2" r="1.95"/><circle cx="260.4" cy="215.2" r="1.95"/><circle cx="228.6" cy="220.3" r="1.95"/><circle cx="262.1" cy="213.7" r="1.95"/><circle cx="240.9" cy="219.7" r="1.95"/><circle cx="234.3" cy="219.3" r="1.95"/><circle cx="260.3" cy="216.0" r="1.95"/><circle cx="262.5" cy="216.3" r="1.95"/><circle cx="236.6" cy="217.2" r="1.95"/><circle cx="250.4" cy="218.7" r="1.95"/><circle cx="263.6" cy="214.7" r="1.95"/><circle cx="263.7" cy="210.7" r="1.95"/><circle cx="268.5" cy="212.4" r="1.95"/><circle cx="250.6" cy="218.4" r="1.95"/><circle cx="270.9" cy="214.2" r="1.95"/><circle cx="239.4" cy="217.4" r="1.95"/><circle cx="263.5" cy="215.9" r="1.95"/><circle cx="245.4" cy="219.0" r="1.95"/><circle cx="267.5" cy="212.3" r="1.95"/><circle cx="269.1" cy="213.2" r="1.95"/><circle cx="253.2" cy="217.8" r="1.95"/><circle cx="241.2" cy="218.0" r="1.95"/><circle cx="243.0" cy="217.1" r="1.95"/><circle cx="243.0" cy="214.2" r="1.95"/><circle cx="246.4" cy="213.7" r="1.95"/><circle cx="262.9" cy="212.6" r="1.95"/><circle cx="268.0" cy="215.0" r="1.95"/><circle cx="240.1" cy="219.5" r="1.95"/><circle cx="230.0" cy="218.4" r="1.95"/><circle cx="247.3" cy="218.9" r="1.95"/><circle cx="263.0" cy="212.1" r="1.95"/><circle cx="234.3" cy="219.7" r="1.95"/><circle cx="244.2" cy="218.9" r="1.95"/><circle cx="269.8" cy="214.9" r="1.95"/><circle cx="251.6" cy="216.9" r="1.95"/><circle cx="243.9" cy="217.4" r="1.95"/><circle cx="256.0" cy="213.6" r="1.95"/><circle cx="252.3" cy="216.1" r="1.95"/><circle cx="266.9" cy="215.4" r="1.95"/><circle cx="275.5" cy="214.4" r="1.95"/><circle cx="237.8" cy="219.0" r="1.95"/><circle cx="255.3" cy="216.9" r="1.95"/><circle cx="255.5" cy="212.1" r="1.95"/><circle cx="244.0" cy="215.4" r="1.95"/><circle cx="255.7" cy="213.5" r="1.95"/><circle cx="262.7" cy="214.4" r="1.95"/><circle cx="229.9" cy="219.8" r="1.95"/><circle cx="241.2" cy="216.9" r="1.95"/><circle cx="263.7" cy="214.9" r="1.95"/><circle cx="264.6" cy="215.8" r="1.95"/><circle cx="252.4" cy="214.5" r="1.95"/><circle cx="235.4" cy="216.5" r="1.95"/><circle cx="241.5" cy="218.1" r="1.95"/><circle cx="236.9" cy="218.9" r="1.95"/><circle cx="246.3" cy="218.2" r="1.95"/><circle cx="246.4" cy="213.3" r="1.95"/><circle cx="268.2" cy="212.0" r="1.95"/><circle cx="234.0" cy="216.5" r="1.95"/><circle cx="252.2" cy="214.1" r="1.95"/><circle cx="234.3" cy="218.7" r="1.95"/><circle cx="255.8" cy="214.8" r="1.95"/><circle cx="250.6" cy="212.6" r="1.95"/><circle cx="251.9" cy="213.4" r="1.95"/><circle cx="251.5" cy="213.7" r="1.95"/><circle cx="265.5" cy="214.0" r="1.95"/><circle cx="245.6" cy="218.7" r="1.95"/><circle cx="251.4" cy="213.8" r="1.95"/><circle cx="262.8" cy="214.3" r="1.95"/><circle cx="253.3" cy="215.6" r="1.95"/><circle cx="270.9" cy="214.4" r="1.95"/><circle cx="281.6" cy="213.5" r="1.95"/><circle cx="258.0" cy="214.1" r="1.95"/><circle cx="263.3" cy="213.6" r="1.95"/><circle cx="249.9" cy="218.0" r="1.95"/><circle cx="231.6" cy="219.1" r="1.95"/><circle cx="251.4" cy="216.2" r="1.95"/><circle cx="243.0" cy="215.4" r="1.95"/><circle cx="249.9" cy="218.0" r="1.95"/><circle cx="263.1" cy="213.3" r="1.95"/><circle cx="247.7" cy="213.9" r="1.95"/><circle cx="244.5" cy="218.7" r="1.95"/><circle cx="249.0" cy="216.2" r="1.95"/><circle cx="238.6" cy="216.4" r="1.95"/><circle cx="243.8" cy="217.8" r="1.95"/><circle cx="254.6" cy="213.7" r="1.95"/><circle cx="264.4" cy="210.8" r="1.95"/><circle cx="275.1" cy="214.3" r="1.95"/><circle cx="263.0" cy="217.1" r="1.95"/><circle cx="242.1" cy="218.9" r="1.95"/><circle cx="247.4" cy="213.4" r="1.95"/><circle cx="271.6" cy="213.4" r="1.95"/><circle cx="261.7" cy="212.5" r="1.95"/><circle cx="274.2" cy="214.3" r="1.95"/><circle cx="257.4" cy="214.7" r="1.95"/><circle cx="242.9" cy="218.8" r="1.95"/><circle cx="255.4" cy="214.8" r="1.95"/><circle cx="236.4" cy="217.9" r="1.95"/><circle cx="257.9" cy="217.9" r="1.95"/><circle cx="259.2" cy="211.4" r="1.95"/><circle cx="248.9" cy="212.7" r="1.95"/><circle cx="263.2" cy="212.9" r="1.95"/><circle cx="256.3" cy="211.5" r="1.95"/><circle cx="262.6" cy="211.2" r="1.95"/><circle cx="248.5" cy="215.6" r="1.95"/><circle cx="270.5" cy="214.5" r="1.95"/><circle cx="251.5" cy="212.9" r="1.95"/><circle cx="250.5" cy="216.9" r="1.95"/><circle cx="264.2" cy="214.8" r="1.95"/><circle cx="245.8" cy="215.7" r="1.95"/><circle cx="263.1" cy="216.9" r="1.95"/><circle cx="258.2" cy="215.6" r="1.95"/><circle cx="264.4" cy="210.9" r="1.95"/><circle cx="261.8" cy="212.8" r="1.95"/><circle cx="266.5" cy="212.8" r="1.95"/><circle cx="240.1" cy="217.5" r="1.95"/><circle cx="270.1" cy="215.4" r="1.95"/><circle cx="242.6" cy="217.3" r="1.95"/><circle cx="245.9" cy="215.4" r="1.95"/><circle cx="279.4" cy="214.0" r="1.95"/><circle cx="230.6" cy="218.1" r="1.95"/><circle cx="259.9" cy="214.2" r="1.95"/><circle cx="251.0" cy="214.3" r="1.95"/><circle cx="240.1" cy="219.8" r="1.95"/><circle cx="235.5" cy="217.1" r="1.95"/><circle cx="238.7" cy="216.1" r="1.95"/><circle cx="268.3" cy="213.5" r="1.95"/><circle cx="267.2" cy="211.7" r="1.95"/><circle cx="267.6" cy="216.4" r="1.95"/><circle cx="264.0" cy="216.5" r="1.95"/><circle cx="245.5" cy="218.3" r="1.95"/><circle cx="231.8" cy="218.5" r="1.95"/><circle cx="252.4" cy="217.6" r="1.95"/><circle cx="263.6" cy="214.2" r="1.95"/><circle cx="249.5" cy="212.6" r="1.95"/><circle cx="244.4" cy="213.7" r="1.95"/><circle cx="246.6" cy="213.2" r="1.95"/><circle cx="245.3" cy="214.0" r="1.95"/><circle cx="249.0" cy="215.0" r="1.95"/><circle cx="243.9" cy="218.0" r="1.95"/><circle cx="251.5" cy="213.0" r="1.95"/><circle cx="276.9" cy="214.4" r="1.95"/><circle cx="259.7" cy="211.2" r="1.95"/><circle cx="272.0" cy="213.8" r="1.95"/><circle cx="261.6" cy="214.0" r="1.95"/><circle cx="239.8" cy="216.0" r="1.95"/><circle cx="270.6" cy="214.1" r="1.95"/><circle cx="256.9" cy="213.7" r="1.95"/><circle cx="238.8" cy="219.1" r="1.95"/><circle cx="266.7" cy="213.5" r="1.95"/><circle cx="250.4" cy="217.8" r="1.95"/><circle cx="248.9" cy="214.8" r="1.95"/><circle cx="271.4" cy="214.1" r="1.95"/><circle cx="247.3" cy="219.0" r="1.95"/><circle cx="259.4" cy="211.8" r="1.95"/><circle cx="230.6" cy="219.8" r="1.95"/><circle cx="233.1" cy="218.3" r="1.95"/><circle cx="250.2" cy="212.4" r="1.95"/><circle cx="242.5" cy="216.1" r="1.95"/><circle cx="249.9" cy="217.8" r="1.95"/><circle cx="240.6" cy="218.5" r="1.95"/><circle cx="267.2" cy="211.4" r="1.95"/><circle cx="231.5" cy="218.0" r="1.95"/><circle cx="244.8" cy="214.9" r="1.95"/><circle cx="234.2" cy="219.2" r="1.95"/><circle cx="235.3" cy="219.4" r="1.95"/><circle cx="241.5" cy="216.1" r="1.95"/><circle cx="239.1" cy="215.3" r="1.95"/><circle cx="236.1" cy="219.7" r="1.95"/><circle cx="262.7" cy="214.8" r="1.95"/><circle cx="262.7" cy="215.7" r="1.95"/><circle cx="258.7" cy="211.2" r="1.95"/><circle cx="243.0" cy="218.7" r="1.95"/><circle cx="246.7" cy="216.2" r="1.95"/><circle cx="264.9" cy="213.8" r="1.95"/><circle cx="244.1" cy="218.3" r="1.95"/><circle cx="233.8" cy="216.9" r="1.95"/><circle cx="247.1" cy="219.1" r="1.95"/><circle cx="238.6" cy="215.5" r="1.95"/><circle cx="240.4" cy="219.1" r="1.95"/><circle cx="267.3" cy="216.1" r="1.95"/><circle cx="255.5" cy="216.7" r="1.95"/><circle cx="261.9" cy="211.5" r="1.95"/><circle cx="260.3" cy="217.1" r="1.95"/><circle cx="268.4" cy="213.1" r="1.95"/><circle cx="254.5" cy="216.4" r="1.95"/><circle cx="248.5" cy="216.6" r="1.95"/><circle cx="260.9" cy="213.6" r="1.95"/><circle cx="252.8" cy="217.7" r="1.95"/><circle cx="267.3" cy="212.7" r="1.95"/><circle cx="256.5" cy="214.1" r="1.95"/><circle cx="240.7" cy="219.3" r="1.95"/><circle cx="230.1" cy="218.7" r="1.95"/><circle cx="239.1" cy="216.9" r="1.95"/><circle cx="259.9" cy="212.3" r="1.95"/><circle cx="267.6" cy="215.9" r="1.95"/><circle cx="255.4" cy="216.2" r="1.95"/><circle cx="235.2" cy="219.6" r="1.95"/><circle cx="260.8" cy="216.4" r="1.95"/><circle cx="259.7" cy="216.4" r="1.95"/><circle cx="249.7" cy="213.3" r="1.95"/><circle cx="257.1" cy="211.0" r="1.95"/><circle cx="270.8" cy="215.1" r="1.95"/><circle cx="246.8" cy="213.1" r="1.95"/><circle cx="242.1" cy="216.2" r="1.95"/><circle cx="248.4" cy="218.6" r="1.95"/><circle cx="252.1" cy="218.5" r="1.95"/><circle cx="263.0" cy="211.0" r="1.95"/><circle cx="276.7" cy="214.5" r="1.95"/><circle cx="243.0" cy="218.0" r="1.95"/><circle cx="262.4" cy="213.6" r="1.95"/><circle cx="244.2" cy="215.7" r="1.95"/><circle cx="243.1" cy="216.6" r="1.95"/><circle cx="236.6" cy="219.5" r="1.95"/><circle cx="244.5" cy="217.7" r="1.95"/><circle cx="241.8" cy="216.7" r="1.95"/><circle cx="259.6" cy="216.2" r="1.95"/><circle cx="267.2" cy="213.7" r="1.95"/><circle cx="261.9" cy="215.1" r="1.95"/><circle cx="241.7" cy="216.9" r="1.95"/><circle cx="249.4" cy="218.8" r="1.95"/><circle cx="241.5" cy="217.1" r="1.95"/><circle cx="237.1" cy="216.1" r="1.95"/><circle cx="252.5" cy="215.8" r="1.95"/><circle cx="252.5" cy="217.8" r="1.95"/><circle cx="268.8" cy="214.8" r="1.95"/><circle cx="247.7" cy="215.2" r="1.95"/><circle cx="256.7" cy="212.6" r="1.95"/><circle cx="276.0" cy="214.6" r="1.95"/><circle cx="260.4" cy="210.3" r="1.95"/><circle cx="259.7" cy="211.7" r="1.95"/><circle cx="249.2" cy="215.9" r="1.95"/><circle cx="267.9" cy="214.6" r="1.95"/><circle cx="258.8" cy="215.4" r="1.95"/><circle cx="255.7" cy="216.9" r="1.95"/><circle cx="245.1" cy="215.9" r="1.95"/><circle cx="260.2" cy="210.6" r="1.95"/><circle cx="239.6" cy="215.2" r="1.95"/><circle cx="229.1" cy="219.8" r="1.95"/><circle cx="256.7" cy="215.2" r="1.95"/><circle cx="248.0" cy="216.8" r="1.95"/><circle cx="257.1" cy="215.2" r="1.95"/><circle cx="250.3" cy="214.9" r="1.95"/><circle cx="255.0" cy="213.7" r="1.95"/><circle cx="257.4" cy="216.7" r="1.95"/><circle cx="251.4" cy="216.7" r="1.95"/><circle cx="256.4" cy="216.7" r="1.95"/><circle cx="238.4" cy="217.0" r="1.95"/><circle cx="263.2" cy="214.3" r="1.95"/><circle cx="271.4" cy="213.9" r="1.95"/><circle cx="264.9" cy="213.7" r="1.95"/><circle cx="258.7" cy="212.9" r="1.95"/><circle cx="259.8" cy="216.7" r="1.95"/><circle cx="234.3" cy="219.5" r="1.95"/><circle cx="257.0" cy="213.5" r="1.95"/><circle cx="272.5" cy="215.5" r="1.95"/><circle cx="270.5" cy="213.7" r="1.95"/><circle cx="247.8" cy="217.4" r="1.95"/><circle cx="260.2" cy="214.2" r="1.95"/><circle cx="249.5" cy="213.0" r="1.95"/><circle cx="252.5" cy="216.8" r="1.95"/><circle cx="245.1" cy="213.7" r="1.95"/><circle cx="241.7" cy="215.8" r="1.95"/><circle cx="240.6" cy="215.2" r="1.95"/><circle cx="254.9" cy="216.5" r="1.95"/><circle cx="238.0" cy="219.1" r="1.95"/><circle cx="259.1" cy="213.7" r="1.95"/><circle cx="249.5" cy="218.5" r="1.95"/><circle cx="247.6" cy="217.9" r="1.95"/><circle cx="244.0" cy="219.3" r="1.95"/><circle cx="264.7" cy="215.9" r="1.95"/><circle cx="267.0" cy="215.2" r="1.95"/><circle cx="274.0" cy="214.6" r="1.95"/><circle cx="237.2" cy="216.7" r="1.95"/><circle cx="256.0" cy="214.8" r="1.95"/><circle cx="260.5" cy="215.7" r="1.95"/><circle cx="261.6" cy="211.1" r="1.95"/><circle cx="235.2" cy="217.9" r="1.95"/><circle cx="249.5" cy="215.1" r="1.95"/><circle cx="245.4" cy="218.8" r="1.95"/><circle cx="246.0" cy="218.6" r="1.95"/><circle cx="259.1" cy="214.0" r="1.95"/><circle cx="244.7" cy="217.6" r="1.95"/><circle cx="240.8" cy="216.0" r="1.95"/><circle cx="243.9" cy="214.3" r="1.95"/><circle cx="275.4" cy="214.7" r="1.95"/><circle cx="264.7" cy="214.2" r="1.95"/><circle cx="264.4" cy="215.3" r="1.95"/><circle cx="262.8" cy="216.4" r="1.95"/><circle cx="267.3" cy="216.3" r="1.95"/><circle cx="237.3" cy="218.6" r="1.95"/><circle cx="249.3" cy="216.9" r="1.95"/><circle cx="263.3" cy="211.4" r="1.95"/><circle cx="259.6" cy="215.7" r="1.95"/><circle cx="252.2" cy="216.1" r="1.95"/><circle cx="270.8" cy="215.7" r="1.95"/><circle cx="231.1" cy="220.0" r="1.95"/><circle cx="271.6" cy="213.3" r="1.95"/><circle cx="269.3" cy="213.5" r="1.95"/><circle cx="250.0" cy="213.3" r="1.95"/><circle cx="243.8" cy="214.1" r="1.95"/><circle cx="253.2" cy="213.5" r="1.95"/><circle cx="251.8" cy="212.1" r="1.95"/><circle cx="272.4" cy="214.3" r="1.95"/><circle cx="258.1" cy="217.4" r="1.95"/><circle cx="248.0" cy="217.8" r="1.95"/><circle cx="245.4" cy="215.1" r="1.95"/><circle cx="265.0" cy="215.3" r="1.95"/><circle cx="256.6" cy="211.2" r="1.95"/><circle cx="247.7" cy="213.5" r="1.95"/><circle cx="236.2" cy="218.6" r="1.95"/><circle cx="269.9" cy="213.7" r="1.95"/><circle cx="261.1" cy="211.8" r="1.95"/><circle cx="273.8" cy="214.8" r="1.95"/><circle cx="248.1" cy="218.6" r="1.95"/><circle cx="243.8" cy="215.5" r="1.95"/><circle cx="252.9" cy="216.2" r="1.95"/><circle cx="254.0" cy="217.2" r="1.95"/><circle cx="232.4" cy="217.0" r="1.95"/><circle cx="269.4" cy="213.4" r="1.95"/><circle cx="234.4" cy="218.5" r="1.95"/><circle cx="238.8" cy="219.9" r="1.95"/><circle cx="264.1" cy="215.4" r="1.95"/><circle cx="236.1" cy="216.8" r="1.95"/><circle cx="246.3" cy="214.2" r="1.95"/><circle cx="245.9" cy="215.9" r="1.95"/><circle cx="241.5" cy="216.7" r="1.95"/><circle cx="262.7" cy="212.3" r="1.95"/><circle cx="255.4" cy="217.1" r="1.95"/><circle cx="244.8" cy="218.9" r="1.95"/><circle cx="266.0" cy="214.1" r="1.95"/><circle cx="281.4" cy="213.6" r="1.95"/><circle cx="252.5" cy="213.5" r="1.95"/><circle cx="251.7" cy="214.0" r="1.95"/><circle cx="256.5" cy="215.6" r="1.95"/><circle cx="252.4" cy="212.7" r="1.95"/><circle cx="244.6" cy="216.1" r="1.95"/><circle cx="247.5" cy="218.6" r="1.95"/><circle cx="246.1" cy="213.3" r="1.95"/><circle cx="262.3" cy="216.9" r="1.95"/><circle cx="265.4" cy="215.0" r="1.95"/><circle cx="254.7" cy="216.2" r="1.95"/><circle cx="230.0" cy="218.9" r="1.95"/><circle cx="252.9" cy="213.8" r="1.95"/><circle cx="248.8" cy="216.3" r="1.95"/><circle cx="257.4" cy="215.0" r="1.95"/><circle cx="234.7" cy="216.7" r="1.95"/><circle cx="258.4" cy="211.4" r="1.95"/><circle cx="242.3" cy="216.7" r="1.95"/><circle cx="242.2" cy="216.6" r="1.95"/><circle cx="240.8" cy="219.2" r="1.95"/><circle cx="256.5" cy="217.5" r="1.95"/><circle cx="250.7" cy="215.8" r="1.95"/><circle cx="267.8" cy="212.5" r="1.95"/><circle cx="249.9" cy="212.4" r="1.95"/><circle cx="259.2" cy="216.7" r="1.95"/><circle cx="270.8" cy="215.1" r="1.95"/><circle cx="248.8" cy="215.1" r="1.95"/><circle cx="240.1" cy="216.2" r="1.95"/><circle cx="262.4" cy="213.3" r="1.95"/><circle cx="247.1" cy="214.9" r="1.95"/><circle cx="273.5" cy="214.7" r="1.95"/><circle cx="267.0" cy="205.0" r="1.95"/><circle cx="266.3" cy="208.8" r="1.95"/><circle cx="261.4" cy="207.7" r="1.95"/><circle cx="259.1" cy="204.6" r="1.95"/><circle cx="240.7" cy="208.3" r="1.95"/><circle cx="264.4" cy="207.2" r="1.95"/><circle cx="244.1" cy="209.7" r="1.95"/><circle cx="271.2" cy="208.4" r="1.95"/><circle cx="240.8" cy="212.4" r="1.95"/><circle cx="240.6" cy="208.9" r="1.95"/><circle cx="243.8" cy="209.3" r="1.95"/><circle cx="248.2" cy="207.5" r="1.95"/><circle cx="252.0" cy="209.0" r="1.95"/><circle cx="272.8" cy="209.1" r="1.95"/><circle cx="289.3" cy="202.8" r="1.95"/><circle cx="296.6" cy="209.7" r="1.95"/><circle cx="279.6" cy="212.4" r="1.95"/><circle cx="284.0" cy="203.4" r="1.95"/><circle cx="292.4" cy="210.5" r="1.95"/><circle cx="275.1" cy="206.2" r="1.95"/><circle cx="289.0" cy="207.4" r="1.95"/><circle cx="283.3" cy="211.4" r="1.95"/><circle cx="293.7" cy="206.3" r="1.95"/><circle cx="294.4" cy="203.7" r="1.95"/><circle cx="272.1" cy="212.3" r="1.95"/><circle cx="276.1" cy="205.2" r="1.95"/><circle cx="286.5" cy="211.9" r="1.95"/><circle cx="274.8" cy="211.3" r="1.95"/><circle cx="283.1" cy="206.9" r="1.95"/><circle cx="280.9" cy="209.9" r="1.95"/></g><line x1="19.5" y1="266.80" x2="458" y2="266.80" stroke="#f0f0f0" stroke-width="0.5"/><line x1="19.5" y1="278.18" x2="458" y2="278.18" stroke="#f0f0f0" stroke-width="0.5"/><line x1="19.5" y1="289.55" x2="458" y2="289.55" stroke="#f0f0f0" stroke-width="0.5"/><line x1="19.5" y1="300.93" x2="458" y2="300.93" stroke="#f0f0f0" stroke-width="0.5"/><line x1="19.5" y1="312.30" x2="458" y2="312.30" stroke="#f0f0f0" stroke-width="0.5"/><line x1="19.5" y1="262" x2="19.5" y2="314" stroke="#f0f0f0" stroke-width="0.5"/><defs><linearGradient id="lg" gradientUnits="userSpaceOnUse" x1="0" y1="266" x2="0" y2="302"><stop offset="0" stop-color="#284f86"/><stop offset="0.33" stop-color="#2a74a6"/><stop offset="0.5" stop-color="#2896ba"/><stop offset="0.67" stop-color="#4db5c4"/><stop offset="0.8" stop-color="#86cfcd"/><stop offset="1" stop-color="#a9e1d8"/></linearGradient></defs><path d="M26.70,283.70 H41.28 V289.70 H55.86 V292.00 H70.44 V281.10 H85.02 V295.00 H99.60 V293.90 H114.18 V278.20 H128.76 V280.50 H143.34 V288.70 H157.92 V284.10 H172.50 V276.00 H187.08 V301.40 H201.66 V286.10 H216.24 V288.90 H230.82 V278.50 H245.40 V288.90 H259.98 V274.70 H274.56 V282.30 H289.14 V301.70 H303.72 V295.80 H318.30 V287.70 H332.88 V285.60 H347.46 V275.50 H362.04 V280.60 H376.62 V272.10 H391.20 V299.70 H405.78 V299.70 H420.36 V299.70 H434.94 V299.70 H449.52 V266.00" fill="none" stroke="url(#lg)" stroke-width="1.25"/><circle cx="26.70" cy="283.70" r="1.0" fill="url(#lg)"/><circle cx="41.28" cy="289.70" r="1.0" fill="url(#lg)"/><circle cx="55.86" cy="292.00" r="1.0" fill="url(#lg)"/><circle cx="70.44" cy="281.10" r="1.0" fill="url(#lg)"/><circle cx="85.02" cy="295.00" r="1.0" fill="url(#lg)"/><circle cx="99.60" cy="293.90" r="1.0" fill="url(#lg)"/><circle cx="114.18" cy="278.20" r="1.0" fill="url(#lg)"/><circle cx="128.76" cy="280.50" r="1.0" fill="url(#lg)"/><circle cx="143.34" cy="288.70" r="1.0" fill="url(#lg)"/><circle cx="157.92" cy="284.10" r="1.0" fill="url(#lg)"/><circle cx="172.50" cy="276.00" r="1.0" fill="url(#lg)"/><circle cx="187.08" cy="301.40" r="1.0" fill="url(#lg)"/><circle cx="201.66" cy="286.10" r="1.0" fill="url(#lg)"/><circle cx="216.24" cy="288.90" r="1.0" fill="url(#lg)"/><circle cx="230.82" cy="278.50" r="1.0" fill="url(#lg)"/><circle cx="245.40" cy="288.90" r="1.0" fill="url(#lg)"/><circle cx="259.98" cy="274.70" r="1.0" fill="url(#lg)"/><circle cx="274.56" cy="282.30" r="1.0" fill="url(#lg)"/><circle cx="289.14" cy="301.70" r="1.0" fill="url(#lg)"/><circle cx="303.72" cy="295.80" r="1.0" fill="url(#lg)"/><circle cx="318.30" cy="287.70" r="1.0" fill="url(#lg)"/><circle cx="332.88" cy="285.60" r="1.0" fill="url(#lg)"/><circle cx="347.46" cy="275.50" r="1.0" fill="url(#lg)"/><circle cx="362.04" cy="280.60" r="1.0" fill="url(#lg)"/><circle cx="376.62" cy="272.10" r="1.0" fill="url(#lg)"/><circle cx="391.20" cy="299.70" r="1.0" fill="url(#lg)"/><circle cx="405.78" cy="299.70" r="1.0" fill="url(#lg)"/><circle cx="420.36" cy="299.70" r="1.0" fill="url(#lg)"/><circle cx="434.94" cy="299.70" r="1.0" fill="url(#lg)"/><circle cx="449.52" cy="266.00" r="1.0" fill="url(#lg)"/><g stroke="#777" stroke-width="0.6" fill="none"><circle cx="12.4" cy="334.8" r="2.3"/><line x1="12.4" y1="332.0" x2="12.4" y2="337.6"/><line x1="9.6" y1="334.8" x2="15.2" y2="334.8"/></g><g stroke="#8a8a8a" stroke-width="0.7" fill="none"><path d="M490.5,334.8 H495.6 M492.6,332.8 L490.5,334.8 L492.6,336.8"/></g><g stroke="#d0d0d0" stroke-width="0.7" fill="none"><path d="M505.6,334.8 H510.6 M508.5,332.8 L510.6,334.8 L508.5,336.8"/></g><g stroke="#8a8a8a" stroke-width="0.7" fill="none"><path d="M520.4,332.6 V337.0 M521.2,334.8 H526.2 M523.2,332.8 L521.2,334.8 L523.2,336.8"/></g><rect x="534.6" y="332.0" width="6.5" height="5.6" fill="#e9e9e9" stroke="#b3b3b3" stroke-width="1.2"/></svg>
</body></html>
